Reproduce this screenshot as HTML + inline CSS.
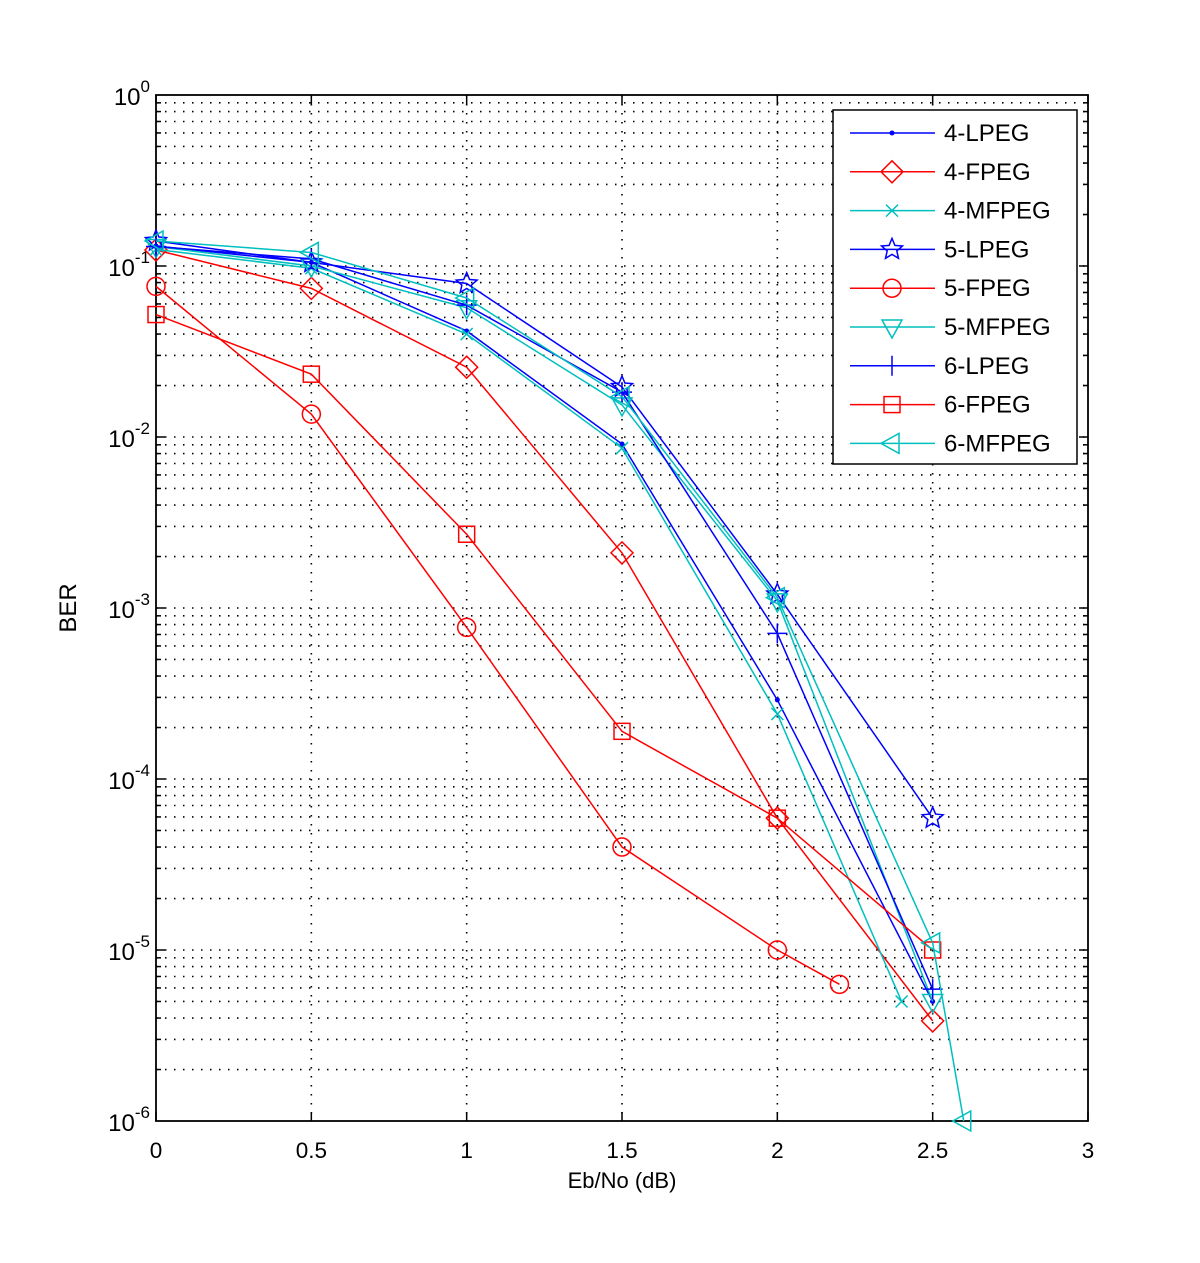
<!DOCTYPE html>
<html><head><meta charset="utf-8"><style>
html,body{margin:0;padding:0;background:#fff}
svg{display:block;font-family:"Liberation Sans",sans-serif}
</style></head><body>
<svg id="chart" width="1200" height="1263" viewBox="0 0 1200 1263">
<rect width="1200" height="1263" fill="#fff"/>
<g id="grid"></g>
<g id="axes"></g>
<g id="series"></g>
<g id="legend"></g>
</svg>
<script>
const xTicks=[0,0.5,1,1.5,2,2.5,3];
const xTickLabels=["0","0.5","1","1.5","2","2.5","3"];
const yDecades=[0,-1,-2,-3,-4,-5,-6];
const x_4LPEG=[0,0.5,1,1.5,2,2.5];
const y_4LPEG=[0.131,0.105,0.0417,0.0091,2.9e-4,5e-6];
const x_4FPEG=[0,0.5,1,1.5,2,2.5];
const y_4FPEG=[0.124,0.074,0.0256,0.0021,5.9e-5,3.85e-6];
const x_4MFPEG=[0,0.5,1,1.5,2,2.4];
const y_4MFPEG=[0.125,0.097,0.04,0.0086,2.4e-4,5e-6];
const x_5LPEG=[0,0.5,1,1.5,2,2.5];
const y_5LPEG=[0.14,0.105,0.079,0.0196,1.2e-3,5.9e-5];
const x_5FPEG=[0,0.5,1,1.5,2,2.2];
const y_5FPEG=[0.076,0.0136,7.7e-4,4e-5,1e-5,6.3e-6];
const x_5MFPEG=[0,0.5,1,1.5,2,2.5];
const y_5MFPEG=[0.13,0.1,0.057,0.0154,1.1e-3,5e-6];
const x_6LPEG=[0,0.5,1,1.5,2,2.5];
const y_6LPEG=[0.13,0.11,0.059,0.0183,7.1e-4,5.9e-6];
const x_6FPEG=[0,0.5,1,1.5,2,2.5];
const y_6FPEG=[0.052,0.0233,0.0027,1.9e-4,5.9e-5,1e-5];
const x_6MFPEG=[0,0.5,1,1.5,2,2.5,2.6];
const y_6MFPEG=[0.14,0.12,0.065,0.0172,1.15e-3,1.1e-5,1e-6];
const seriesNames=["4-LPEG","4-FPEG","4-MFPEG","5-LPEG","5-FPEG","5-MFPEG","6-LPEG","6-FPEG","6-MFPEG"];

const L=156,R=1088,T=95,B=1121;
const NS="http://www.w3.org/2000/svg";
function X(v){return L+(v-0)/(3-0)*(R-L);}
function Y(v){return T+(-Math.log10(v))/6*(B-T);}
function mk(tag,attrs,parent){const e=document.createElementNS(NS,tag);for(const k in attrs)e.setAttribute(k,attrs[k]);parent.appendChild(e);return e;}
const grid=document.getElementById('grid'),axes=document.getElementById('axes'),ser=document.getElementById('series'),leg=document.getElementById('legend');
const dot={stroke:"#000","stroke-width":1.6,"stroke-dasharray":"1.5 7.5"};
for(let d=0;d>-6;d--){for(let m=1;m<10;m++){const v=m*Math.pow(10,d-1);const y=Y(v);if(y<=T+0.5||y>=B-0.5)continue;
const g=mk('line',Object.assign({x1:L,x2:R,y1:y,y2:y},dot),grid);


const t1=mk('line',{x1:L,x2:L+(m==1?9:5),y1:y,y2:y,stroke:"#000","stroke-width":1.5},axes);


const t2=mk('line',{x1:R,x2:R-(m==1?9:5),y1:y,y2:y,stroke:"#000","stroke-width":1.5},axes);

}}
xTicks.forEach((v,i)=>{const x=X(v);
if(i>0&&i<xTicks.length-1){const g=mk('line',Object.assign({x1:x,x2:x,y1:T,y2:B},dot),grid);

}
const a=mk('line',{x1:x,x2:x,y1:B,y2:B-9,stroke:"#000","stroke-width":1.5},axes);


const b=mk('line',{x1:x,x2:x,y1:T,y2:T+9,stroke:"#000","stroke-width":1.5},axes);


const t=mk('text',{x:x,y:1158,"text-anchor":"middle","font-size":22.5},axes);t.textContent=xTickLabels[i];

});
yDecades.forEach(d=>{const y=Y(Math.pow(10,d));
const t=mk('text',{x:150,y:y+10,"text-anchor":"end","font-size":24},axes);


t.appendChild(document.createTextNode('10'));
const s=mk('tspan',{dy:-13,"font-size":17},t);s.textContent=String(d);});
const fr=mk('rect',{x:L,y:T,width:R-L,height:B-T,fill:"none",stroke:"#000","stroke-width":1.8},axes);


const xl=mk('text',{x:622,y:1188,"text-anchor":"middle","font-size":22},axes);xl.textContent="Eb/No (dB)";


const yl=mk('text',{x:0,y:0,"text-anchor":"middle","font-size":24,transform:"translate(76,608) rotate(-90)"},axes);yl.textContent="BER";



const B1="#0000ff",RD="#ff0000",CY="#00bfbf";
function marker(type,x,y,c,p){let e;
if(type=='dot')e=mk('circle',{cx:x,cy:y,r:2.5,fill:c},p);
else if(type=='diamond')e=mk('polygon',{points:`${x},${y-11} ${x+11},${y} ${x},${y+11} ${x-11},${y}`,fill:"none",stroke:c,"stroke-width":1.5},p);
else if(type=='x')e=mk('path',{d:`M${x-6},${y-6}L${x+6},${y+6}M${x-6},${y+6}L${x+6},${y-6}`,stroke:c,"stroke-width":1.5},p);
else if(type=='star'){let pts=[];for(let k=0;k<10;k++){const r=k%2?5:11,a=-Math.PI/2+k*Math.PI/5;pts.push((x+r*Math.cos(a)).toFixed(1)+','+(y+r*Math.sin(a)).toFixed(1));}e=mk('polygon',{points:pts.join(' '),fill:"none",stroke:c,"stroke-width":1.5},p);}
else if(type=='circle')e=mk('circle',{cx:x,cy:y,r:9,fill:"none",stroke:c,"stroke-width":1.5},p);
else if(type=='dtri')e=mk('polygon',{points:`${x-10},${y-7} ${x+10},${y-7} ${x},${y+11}`,fill:"none",stroke:c,"stroke-width":1.5},p);
else if(type=='plus')e=mk('path',{d:`M${x-10},${y}L${x+10},${y}M${x},${y-10}L${x},${y+10}`,stroke:c,"stroke-width":1.5},p);
else if(type=='square')e=mk('rect',{x:x-8,y:y-8,width:16,height:16,fill:"none",stroke:c,"stroke-width":1.5},p);
else if(type=='ltri')e=mk('polygon',{points:`${x-11},${y} ${x+7},${y-10} ${x+7},${y+10}`,fill:"none",stroke:c,"stroke-width":1.5},p);
return e;}
const defs=[[x_4LPEG,y_4LPEG,B1,'dot'],[x_4FPEG,y_4FPEG,RD,'diamond'],[x_4MFPEG,y_4MFPEG,CY,'x'],[x_5LPEG,y_5LPEG,B1,'star'],[x_5FPEG,y_5FPEG,RD,'circle'],[x_5MFPEG,y_5MFPEG,CY,'dtri'],[x_6LPEG,y_6LPEG,B1,'plus'],[x_6FPEG,y_6FPEG,RD,'square'],[x_6MFPEG,y_6MFPEG,CY,'ltri']];
defs.forEach((s,i)=>{const g=mk('g',{},ser);


const pl=mk('polyline',{points:s[0].map((v,j)=>X(v)+','+Y(s[1][j])).join(' '),fill:"none",stroke:s[2],"stroke-width":1.5},g);


s[0].forEach((v,j)=>{const m=marker(s[3],X(v),Y(s[1][j]),s[2],g);

});});
const lb=mk('rect',{x:833,y:110,width:244,height:354,fill:"#fff",stroke:"#000","stroke-width":1.5},leg);


defs.forEach((s,i)=>{const y=133+i*38.8;const g=mk('g',{},leg);


mk('line',{x1:850,x2:935,y1:y,y2:y,stroke:s[2],"stroke-width":1.5},g);
marker(s[3],892,y,s[2],g);
const t=mk('text',{x:944,y:y+8,"font-size":24},g);t.textContent=seriesNames[i];});
</script>
</body></html>
